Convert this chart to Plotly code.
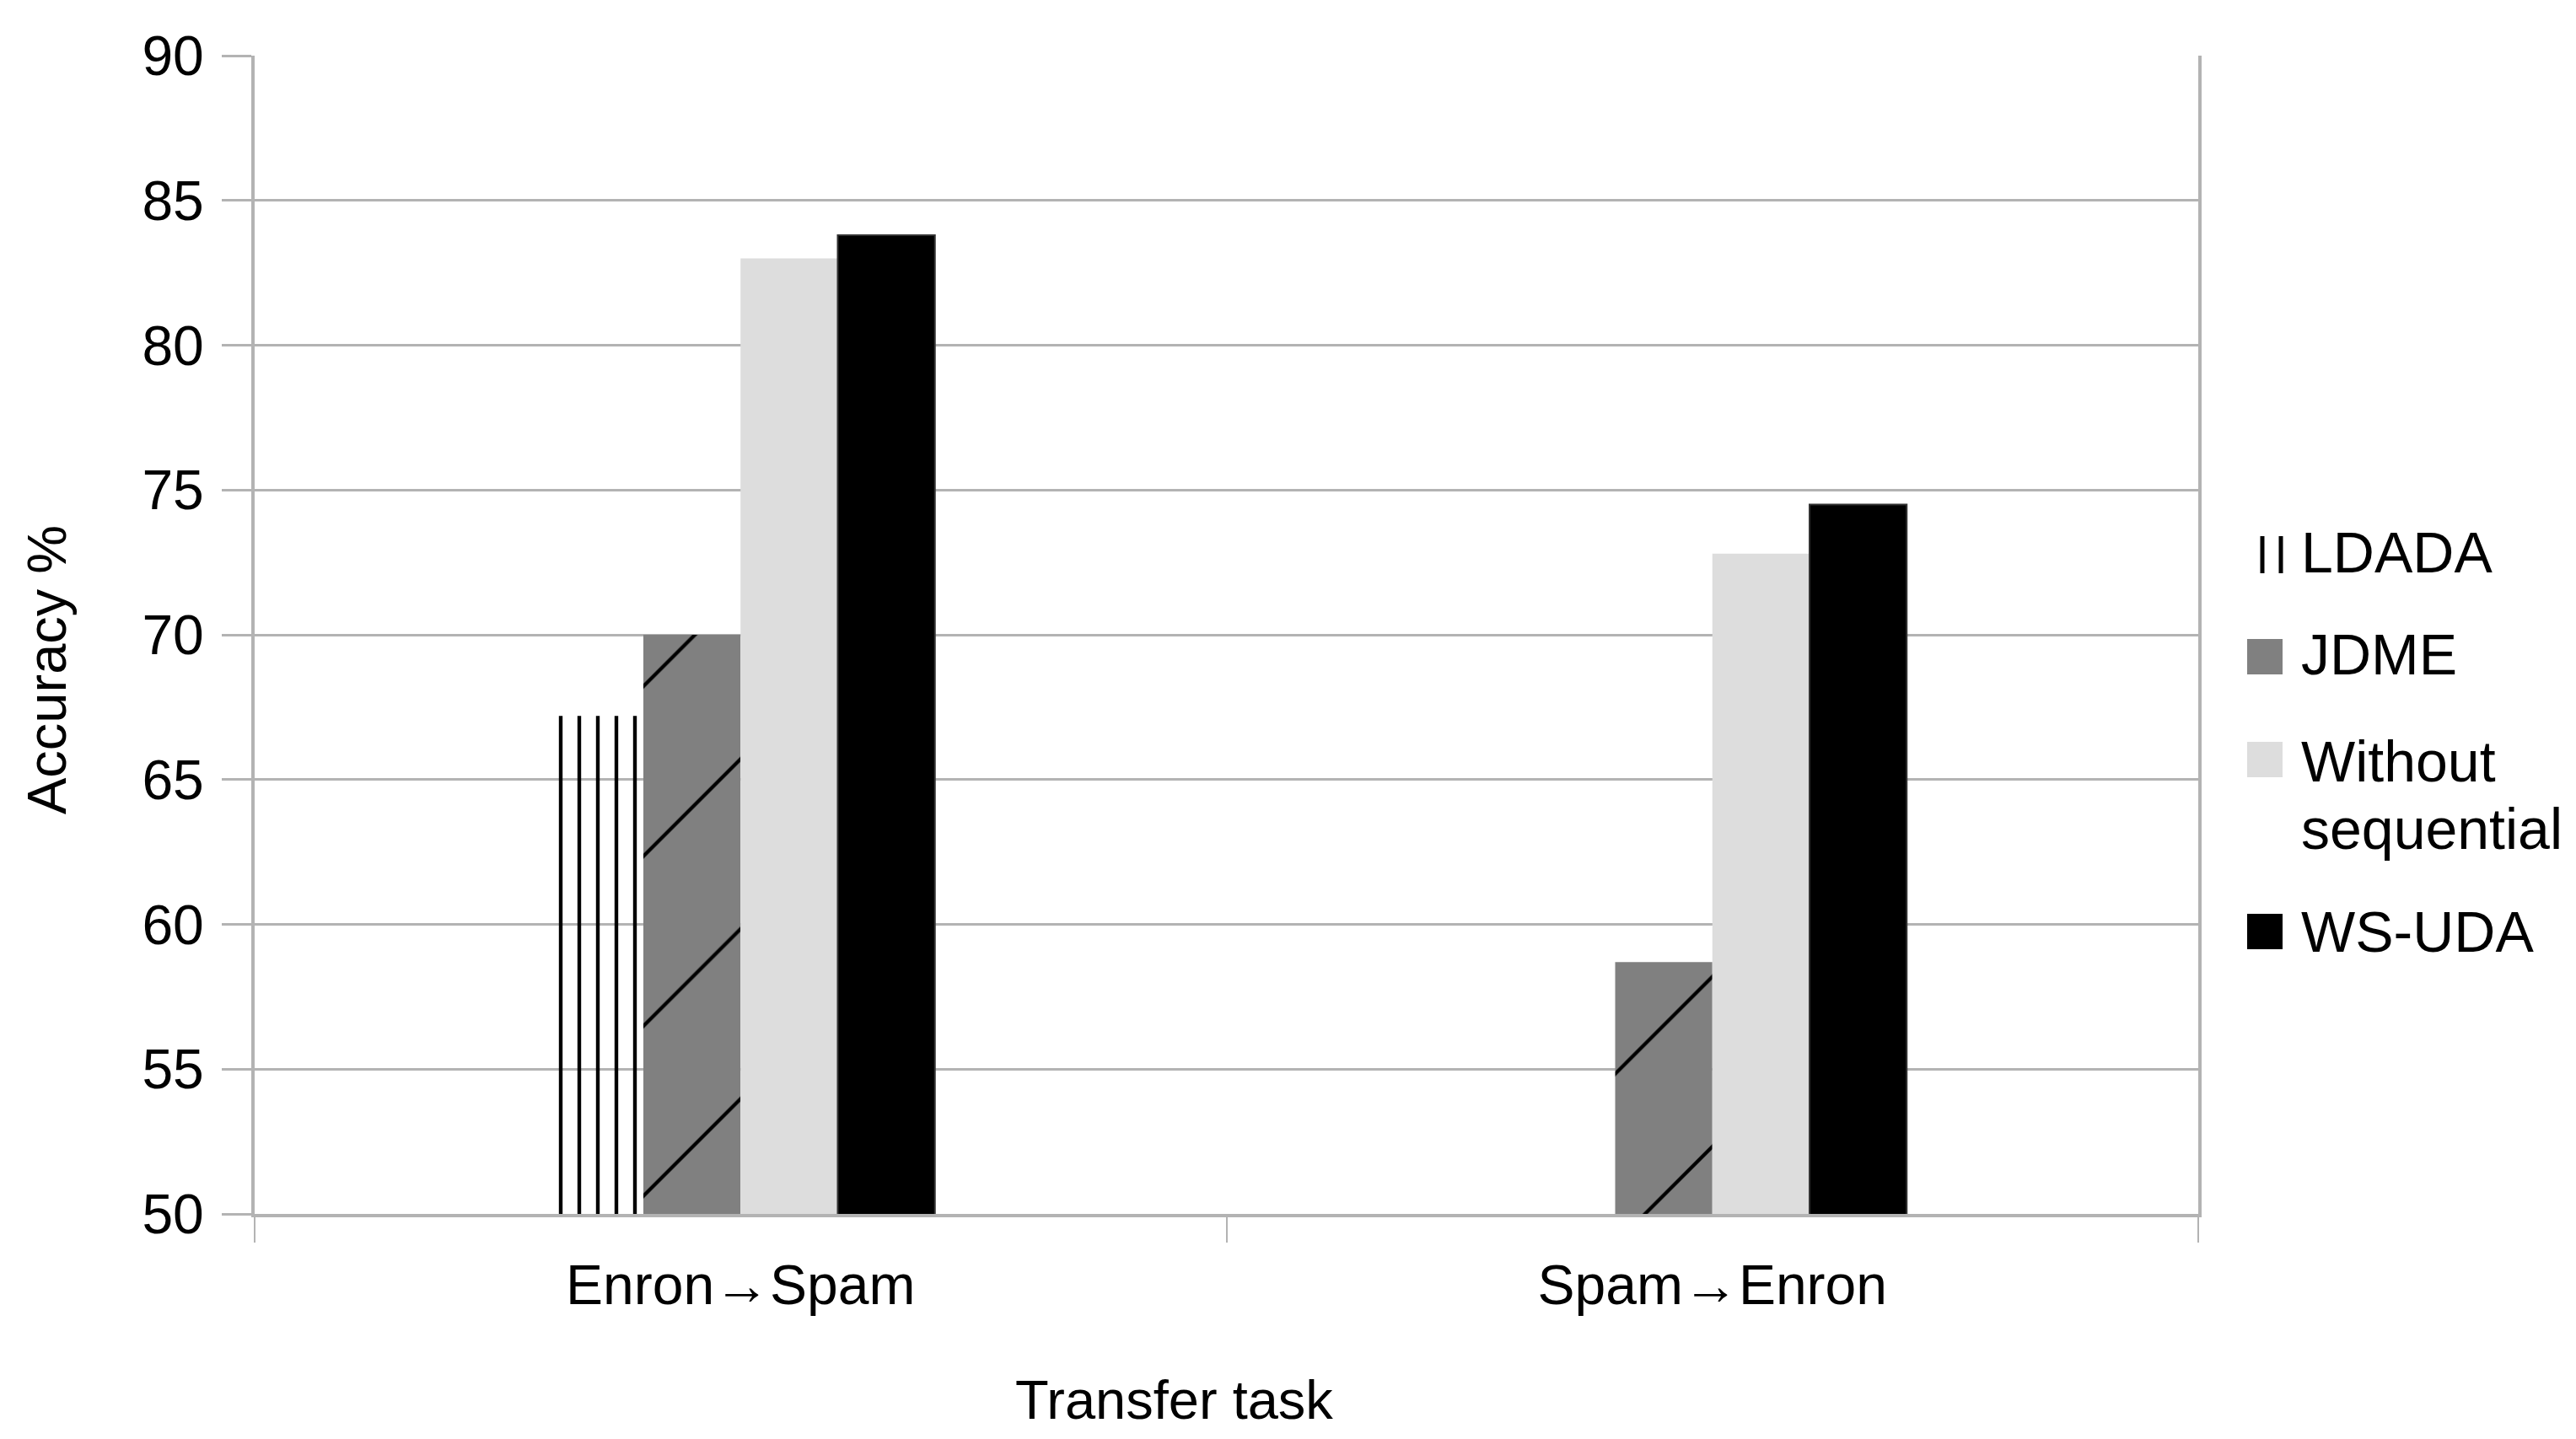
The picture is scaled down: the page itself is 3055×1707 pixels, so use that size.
import plotly.graph_objects as go

# data
tasks = ['Enron→Spam', 'Spam→Enron']
ldada = [67.2, None]
jdme = [70.0, 58.7]
without_seq = [83.0, 72.8]
ws_uda = [83.8, 74.5]

W, H = 3055, 1707
OFF = 8  # the page body margin shifts the figure by 8px
L, T = 302 - OFF, 66 - OFF
PW, PH = 2305, 1374
R, B = W - L - PW, H - T - PH

FONT = 'Liberation Sans'
GRID = '#b3b3b3'
CLEAR = 'rgba(0,0,0,0)'


def px_x(p):
    # screen pixel -> paper coordinate
    return (p - OFF - L) / PW


def px_y(p):
    return (T + PH - (p - OFF)) / PH


fig = go.Figure()

fig.add_trace(go.Bar(
    x=tasks, y=ldada, name='LDADA', showlegend=False,
    marker=dict(color=CLEAR, line_width=0,
                pattern=dict(shape='|', fgcolor='black', bgcolor=CLEAR,
                             size=22, solidity=0.2, fillmode='replace'))))
fig.add_trace(go.Bar(
    x=tasks, y=jdme, name='JDME', showlegend=False,
    marker=dict(color='#808080', line_width=0,
                pattern=dict(shape='/', fgcolor='black', bgcolor='#808080',
                             size=142.5, solidity=0.03, fillmode='replace'))))
fig.add_trace(go.Bar(
    x=tasks, y=without_seq, name='Without sequential', showlegend=False,
    marker=dict(color='#dddddd', line_width=0)))
fig.add_trace(go.Bar(
    x=tasks, y=ws_uda, name='WS-UDA', showlegend=False,
    marker=dict(color='#000000', line=dict(color='#333333', width=2))))

fig.update_layout(
    width=W, height=H,
    template='none',
    paper_bgcolor='white', plot_bgcolor='white',
    margin=dict(l=L, r=R, t=T, b=B, pad=0),
    barmode='group', bargap=0.6, bargroupgap=0,
    font=dict(family=FONT, size=66, color='#000000'),
    showlegend=False,
)

fig.update_yaxes(
    range=[50, 90], dtick=5, tick0=50,
    showgrid=True, gridcolor=GRID, gridwidth=3,
    showline=True, linecolor=GRID, linewidth=4, mirror=True,
    ticks='outside', ticklen=35, tickwidth=3, tickcolor=GRID,
    ticklabelstandoff=8,
    tickfont=dict(family=FONT, size=66, color='#000000'),
    zeroline=False,
)
fig.update_xaxes(
    showgrid=False,
    showline=True, linecolor=GRID, linewidth=4,
    ticks='outside', tickson='boundaries', ticklen=30, tickwidth=2, tickcolor=GRID,
    ticklabelstandoff=24,
    tickfont=dict(family=FONT, size=66, color='#000000'),
)

# axis titles
fig.add_annotation(text='Accuracy %', xref='paper', yref='paper',
                   x=px_x(55), y=px_y(795), xanchor='center', yanchor='middle',
                   textangle=-90, showarrow=False,
                   font=dict(family=FONT, size=65, color='#000000'))
fig.add_annotation(text='Transfer task', xref='paper', yref='paper',
                   x=px_x(1392), y=px_y(1660), xanchor='center', yanchor='middle',
                   showarrow=False,
                   font=dict(family=FONT, size=65, color='#000000'))

# legend drawn by hand so the symbols can be as large as in the reference
legend_labels = [['LDADA'], ['JDME'], ['Without', 'sequential'], ['WS-UDA']]
legend_colors = [None, '#808080', '#dddddd', '#000000']
label_y = [655, 776, 903, 1105]
symbol_y = [658, 779, 901, 1105]
for lines, col, yc, ys in zip(legend_labels, legend_colors, label_y, symbol_y):
    if col is None:
        for lx in (2683, 2705):
            fig.add_shape(type='line', xref='paper', yref='paper',
                          x0=px_x(lx), x1=px_x(lx), y0=px_y(ys - 22), y1=px_y(ys + 22),
                          line=dict(color='black', width=5))
    else:
        fig.add_shape(type='rect', xref='paper', yref='paper',
                      x0=px_x(2665), x1=px_x(2707), y0=px_y(ys - 21), y1=px_y(ys + 21),
                      fillcolor=col, line_width=0)
    for i, txt in enumerate(lines):
        fig.add_annotation(text=txt, xref='paper', yref='paper',
                           x=px_x(2727), y=px_y(yc + i * 80), xanchor='left', yanchor='middle',
                           align='left', showarrow=False,
                           font=dict(family=FONT, size=68, color='#000000'))

fig.write_html('out.html')
